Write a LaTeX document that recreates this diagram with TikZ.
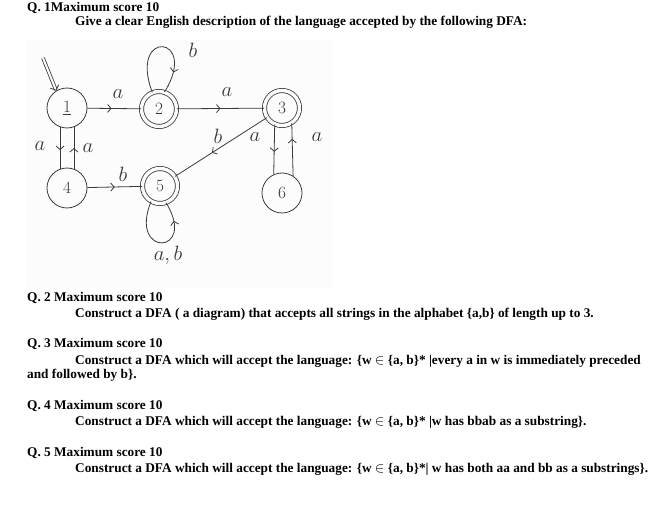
\documentclass[tikz,border=0pt]{standalone}
\usepackage{fontspec}
\setmainfont{Liberation Serif}
\usetikzlibrary{arrows.meta,decorations.markings}
\definecolor{inkc}{HTML}{3A3A3A}
\definecolor{bgc}{HTML}{FCFCFC}
\begin{document}
\begin{tikzpicture}[x=1pt,y=-1pt,
  state/.style={circle, draw=inkc, line width=0.8pt, minimum size=40pt, inner sep=0pt,
    text=inkc, font=\fontsize{19}{19}\selectfont},
  accept/.style={state, minimum size=35pt, double=bgc, double distance=3.4pt},
  edge/.style={draw=inkc, line width=0.8pt},
  midarrow/.style={postaction={decorate}, decoration={markings, mark=at position #1 with
    {\arrow{Straight Barb[length=3.5pt,width=8pt,line width=0.8pt]}}}},
  midarrow/.default=0.5,
  lab/.style={text=inkc, inner sep=0pt, font=\fontsize{20}{20}\selectfont},
  qline/.style={anchor=base west, inner sep=0pt, font=\bfseries\fontsize{13.3}{16}\selectfont},
]
\useasboundingbox (0,0) rectangle (670,505);
\fill[bgc] (27,40) rectangle (332,288);

% states
\node[state]  (s1) at (67,108) {$\underline{1}$};
\node[accept] (s2) at (159,109) {$2$};
\node[accept] (s3) at (282,108) {$3$};
\node[state]  (s4) at (67,188) {$4$};
\node[accept] (s5) at (160,186) {$5$};
\node[state]  (s6) at (282,193) {$6$};

% start arrow
\coordinate (st) at (43,58);
\draw[edge, double=bgc, double distance=2pt, -{Straight Barb[length=4pt,width=9pt,line width=0.8pt]}] (st) -- (s1.122);

% transitions
\draw[edge, midarrow=0.45] (s1) -- (s2);
\draw[edge, midarrow] (s2) -- (s3);
\draw[edge, midarrow=0.6] (s3) -- (s5);
\draw[edge, midarrow=0.5] (s4) -- (s5);
\draw[edge, midarrow=0.55] (s1.250) -- (s4.110);
\draw[edge, midarrow=0.5] (s4.70) -- (s1.290);
\draw[edge, midarrow=0.55] (s3.246) -- (s6.114);
\draw[edge, midarrow=0.7] (s6.57) -- (s3.303);
\draw[edge, midarrow=0.8] (s2.112) .. controls (128,28) and (200,35) .. (s2.72);
\draw[edge, midarrow=0.8] (s5.240) .. controls (128,258) and (198,255) .. (s5.290);

% labels
\node[lab] (l12) at (118,94) {$a$};
\node[lab] (l22) at (193,50) {$b$};
\node[lab] (l23) at (227,92) {$a$};
\node[lab] (l35) at (218,136) {$b$};
\node[lab] (l36) at (255,137) {$a$};
\node[lab] (l63) at (317,137) {$a$};
\node[lab] (l14) at (40,146) {$a$};
\node[lab] (l41) at (88,148) {$a$};
\node[lab] (l45) at (123,174) {$b$};
\node[lab] (l55) at (168,255) {$a,b$};

% text
\node[qline] (q1)  at (27,11.5) {Q. 1Maximum score 10};
\node[qline] (q1t) at (75,26) {Give a clear English description of the language accepted by the following DFA:};
\node[qline] (q2)  at (27,302) {Q. 2 Maximum score 10};
\node[qline] (q2t) at (75,318) {Construct a DFA ( a diagram) that accepts all strings in the alphabet \{a,b\} of length up to 3.};
\node[qline] (q3)  at (27,348) {Q. 3 Maximum score 10};
\node[qline] (q3t) at (75,364) {Construct a DFA which will accept the language: \{w $\in$ \{a, b\}* |every a in w is immediately preceded};
\node[qline] (q3u) at (27,378) {and followed by b\}.};
\node[qline] (q4)  at (27,409.5) {Q. 4 Maximum score 10};
\node[qline] (q4t) at (75,425.5) {Construct a DFA which will accept the language: \{w $\in$ \{a, b\}* |w has bbab as a substring\}.};
\node[qline] (q5)  at (27,456) {Q. 5 Maximum score 10};
\node[qline] (q5t) at (75,472) {Construct a DFA which will accept the language: \{w $\in$ \{a, b\}*| w has both aa and bb as a substrings\}.};
\end{tikzpicture}
\end{document}
